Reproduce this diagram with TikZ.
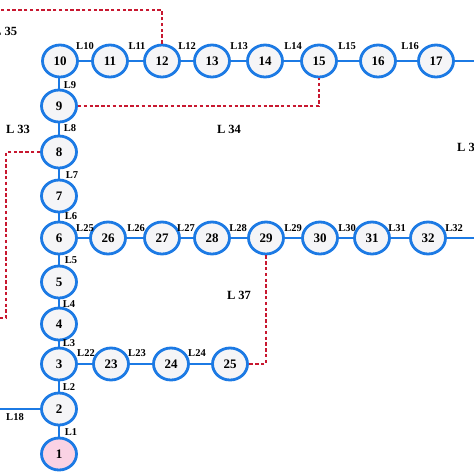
\documentclass[tikz,border=0pt]{standalone}
\usepackage{fontspec}
\setmainfont{Liberation Serif}
\usetikzlibrary{shapes.geometric}
\definecolor{busblue}{RGB}{28,122,228}
\definecolor{busfill}{RGB}{245,245,247}
\definecolor{slackfill}{RGB}{250,210,228}
\definecolor{tiered}{RGB}{200,24,48}
\tikzset{
  bus/.style={ellipse, draw=busblue, line width=2.8pt, fill=busfill, minimum width=35pt, minimum height=32pt, inner sep=0pt, font=\bfseries\fontsize{13}{13}\selectfont},
  line/.style={draw=busblue, line width=2.8pt},
  tie/.style={draw=tiered, line width=2.6pt, dash pattern=on 3.4pt off 2.4pt},
  lbl/.style={font=\bfseries\fontsize{10.5}{10.5}\selectfont, inner sep=0pt},
  tlbl/.style={font=\bfseries\fontsize{12.5}{12.5}\selectfont, inner sep=0pt}
}
\begin{document}
\begin{tikzpicture}[x=1pt,y=-1pt]
\useasboundingbox (0,0) rectangle (474,474);
% coordinates for free ends
\coordinate (e17) at (480,61);
\coordinate (e32) at (480,238);
\coordinate (e18) at (-6,409);
% lines drawn first
\draw[line] (60,61) -- (e17);
\draw[line] (59,61) -- (59,455);
\draw[line] (59,238) -- (e32);
\draw[line] (59,364) -- (230,364);
\draw[line] (59,409) -- (e18);
% buses
\node[bus] (n10) at (60,61) {10};
\node[bus] (n11) at (110,61) {11};
\node[bus] (n12) at (162,61) {12};
\node[bus] (n13) at (212,61) {13};
\node[bus] (n14) at (265,61) {14};
\node[bus] (n15) at (319,61) {15};
\node[bus] (n16) at (378,61) {16};
\node[bus] (n17) at (436,61) {17};
\node[bus] (n9) at (59,106) {9};
\node[bus] (n8) at (59,152) {8};
\node[bus] (n7) at (59,196) {7};
\node[bus] (n6) at (59,238) {6};
\node[bus] (n5) at (59,282) {5};
\node[bus] (n4) at (59,324) {4};
\node[bus] (n3) at (59,364) {3};
\node[bus] (n2) at (59,409) {2};
\node[bus, fill=slackfill] (n1) at (59,454) {1};
\node[bus] (n26) at (108,238) {26};
\node[bus] (n27) at (162,238) {27};
\node[bus] (n28) at (212,238) {28};
\node[bus] (n29) at (266,238) {29};
\node[bus] (n30) at (320,238) {30};
\node[bus] (n31) at (372,238) {31};
\node[bus] (n32) at (428,238) {32};
\node[bus] (n23) at (111,364) {23};
\node[bus] (n24) at (171,364) {24};
\node[bus] (n25) at (230,364) {25};
% tie lines
\coordinate (t35a) at (162,10);
\coordinate (t35b) at (-6,10);
\draw[tie] (n12.north) -- (t35a) -- (t35b);
\draw[tie] (n9.east) -- (319,106) -- (n15.south);
\coordinate (t33a) at (6,152);
\coordinate (t33b) at (6,318);
\coordinate (t33c) at (-6,318);
\draw[tie] (n8.west) -- (t33a) -- (t33b) -- (t33c);
\draw[tie] (n29.south) -- (266,364) -- (n25.east);
% branch labels
\node[lbl] (l10) at (85,46) {L10};
\node[lbl] (l11) at (137,46) {L11};
\node[lbl] (l12) at (187,46) {L12};
\node[lbl] (l13) at (239,46) {L13};
\node[lbl] (l14) at (293,46) {L14};
\node[lbl] (l15) at (347,46) {L15};
\node[lbl] (l16) at (410,46) {L16};
\node[lbl] (l9) at (70,85) {L9};
\node[lbl] (l8) at (70,128) {L8};
\node[lbl] (l7) at (72,175) {L7};
\node[lbl] (l6) at (71,216) {L6};
\node[lbl] (l5) at (71,260) {L5};
\node[lbl] (l4) at (69,304) {L4};
\node[lbl] (l3) at (69,343) {L3};
\node[lbl] (l2) at (69,387) {L2};
\node[lbl] (l1) at (71,432) {L1};
\node[lbl] (l25) at (85,228) {L25};
\node[lbl] (l26) at (136,228) {L26};
\node[lbl] (l27) at (186,228) {L27};
\node[lbl] (l28) at (238,228) {L28};
\node[lbl] (l29) at (293,228) {L29};
\node[lbl] (l30) at (347,228) {L30};
\node[lbl] (l31) at (397,228) {L31};
\node[lbl] (l32) at (454,228) {L32};
\node[lbl] (l22) at (86,353) {L22};
\node[lbl] (l23) at (137,353) {L23};
\node[lbl] (l24) at (197,353) {L24};
\node[lbl] (l18) at (15,417) {L18};
% tie labels
\node[tlbl, anchor=west] (tl35) at (-7,31) {L 35};
\node[tlbl] (tl33) at (18,129) {L 33};
\node[tlbl] (tl34) at (229,129) {L 34};
\node[tlbl, anchor=west] (tl36) at (457,147) {L 36};
\node[tlbl] (tl37) at (239,295) {L 37};
\end{tikzpicture}
\end{document}
